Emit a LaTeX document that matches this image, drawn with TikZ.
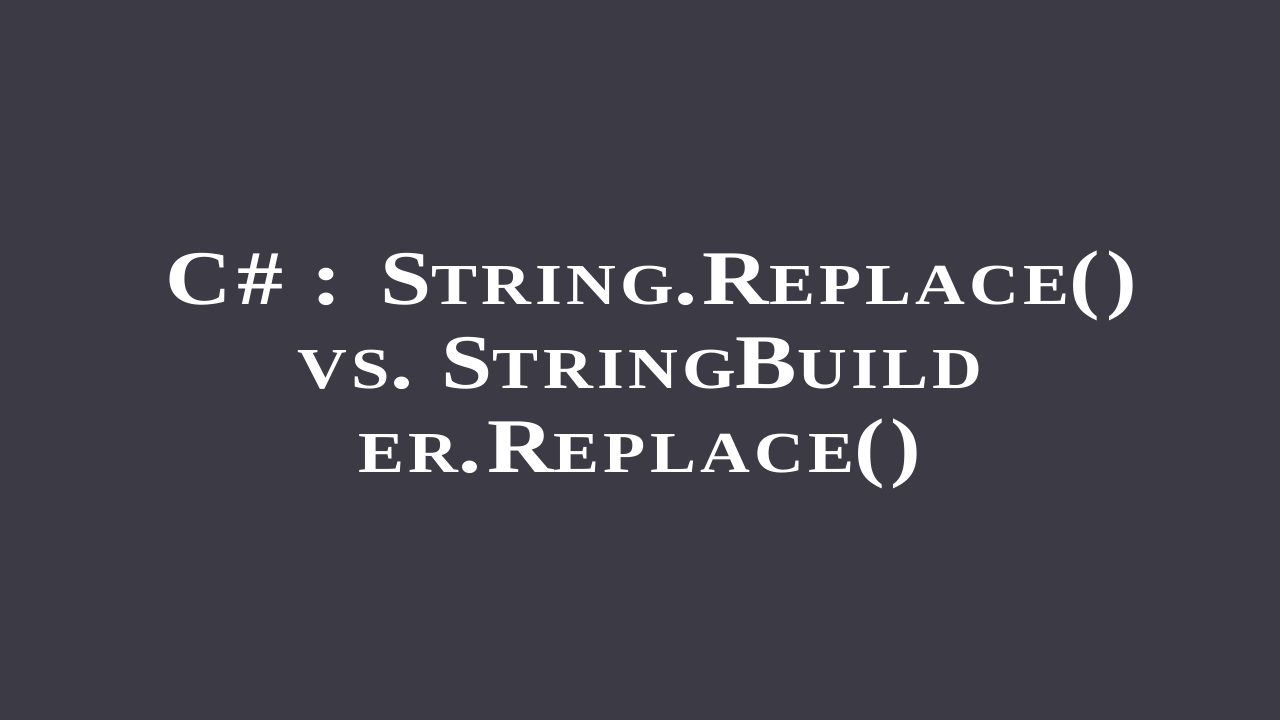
\documentclass[tikz,border=0pt]{standalone}
\usepackage{fontspec}
\setmainfont{Liberation Serif}[LetterSpace=6]
\definecolor{bg}{HTML}{3B3A45}
\newcommand\sm[1]{{\fontsize{16.5}{16.5}\selectfont #1}}
\tikzset{titleline/.style={text=white,font=\fontsize{22}{22}\selectfont\bfseries,inner sep=0pt,anchor=base}}
\begin{document}
\begin{tikzpicture}
\fill[bg] (0,0) rectangle (12.8,7.2);
\useasboundingbox (0,0) rectangle (12.8,7.2);
\node[titleline] (l1) at (6.51,4.15) {\scalebox{1.19}[1]{C\# : S\sm{TRING}.R\sm{EPLACE}()}};
\node[titleline] (l2) at (6.4,3.31) {\scalebox{1.19}[1]{\sm{VS}. S\sm{TRING}B\sm{UILD}}};
\node[titleline] (l3) at (6.4,2.47) {\scalebox{1.19}[1]{\sm{ER}.R\sm{EPLACE}()}};
\end{tikzpicture}
\end{document}
